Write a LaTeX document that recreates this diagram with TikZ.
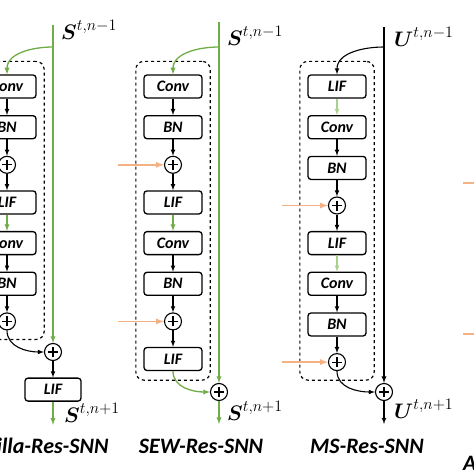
\RequirePackage{fix-cm}
\documentclass[tikz,border=0pt]{standalone}
\usepackage{amsmath,amssymb}
\usepackage{fontspec}
\setmainfont{Carlito}
\usepackage{xcolor}
\usepackage{tikz}
\usetikzlibrary{shapes,arrows,positioning,fit,backgrounds}
\DeclareMathSizes{21}{21}{16}{12}

\definecolor{resgreen}{HTML}{70AD47}
\definecolor{palegreen}{HTML}{A9D18E}
\definecolor{spikeorange}{HTML}{F4B183}

\begin{document}
\begin{tikzpicture}[
    x=1pt, y=-1pt,
    node distance=16.4pt,
    blk/.style={rectangle, draw, line width=1.3pt, rounded corners=3pt, minimum width=58pt, minimum height=23pt, inner sep=0pt, font=\fontsize{16}{18}\selectfont\bfseries\itshape},
    add/.style={circle, draw, line width=1.1pt, minimum size=17pt, inner sep=0pt,
        path picture={\draw[line width=1.1pt] ([xshift=-5pt]path picture bounding box.center) -- ([xshift=5pt]path picture bounding box.center)
            ([yshift=-5pt]path picture bounding box.center) -- ([yshift=5pt]path picture bounding box.center);}},
    dashbox/.style={draw, dashed, line width=1.2pt, rounded corners=8pt, inner xsep=7.5pt, inner ysep=9pt},
    arrow/.style={-latex, line width=1.1pt},
    garrow/.style={-latex, line width=1.3pt, draw=resgreen},
    parrow/.style={-latex, line width=1.1pt, draw=palegreen},
    oarrow/.style={-latex, line width=1.7pt, draw=spikeorange},
    lbl/.style={inner sep=0pt, anchor=base west, font=\fontsize{21}{24}\selectfont},
    title/.style={inner sep=0pt, anchor=base, font=\fontsize{22}{26}\selectfont\bfseries\itshape}
]
\useasboundingbox (0,0) rectangle (474,474);
\clip (0,0) rectangle (474,474);

% Vanilla-Res-SNN
\node[blk] (v1) at (7,86.5) {Conv};
\node[blk, below=of v1] (v2) {BN};
\node[add, below=of v2] (v3) {};
\node[blk, below=of v3] (v4) {LIF};
\node[blk, below=of v4] (v5) {Conv};
\node[blk, below=of v5] (v6) {BN};
\node[add, below=of v6] (v7) {};
\node[dashbox, fit={([yshift=4pt]v1.north west) (v1.north east) (v7)}] (vBox) {};
\coordinate (vTop) at (53,25);
\coordinate (vFork) at (53,47);
\node[add] (vAdd) at (53,352) {};
\node[blk, minimum width=56pt, below=of vAdd] (vLif) {LIF};
\coordinate[below=23pt of vLif] (vOut);
\node[lbl] (vInLbl) at (61,39) {$\boldsymbol{S}^{t,n-1}$};
\node[lbl] (vOutLbl) at (64,422) {$\boldsymbol{S}^{t,n+1}$};
\node[title] (vTitle) at (35,453) {Vanilla-Res-SNN};

\draw[garrow] (vTop) -- (vAdd);
\draw[garrow] (vFork) to[out=180,in=90] (v1.north);
\draw[arrow] (v1) -- (v2);
\draw[arrow] (v2) -- (v3);
\draw[arrow] (v3) -- (v4);
\draw[garrow] (v4) -- (v5);
\draw[arrow] (v5) -- (v6);
\draw[arrow] (v6) -- (v7);
\draw[arrow] (v7) to[out=-90,in=180] (vAdd);
\draw[arrow] (vAdd) -- (vLif);
\draw[garrow] (vLif) -- (vOut);

% SEW-Res-SNN
\node[blk] (s1) at (173,86.5) {Conv};
\node[blk, below=of s1] (s2) {BN};
\node[add, below=of s2] (s3) {};
\node[blk, below=of s3] (s4) {LIF};
\node[blk, below=of s4] (s5) {Conv};
\node[blk, below=of s5] (s6) {BN};
\node[add, below=of s6] (s7) {};
\node[blk, below=of s7] (s8) {LIF};
\node[dashbox, fit={([yshift=4pt]s1.north west) (s1.north east) (s8)}] (sBox) {};
\coordinate (sTop) at (219,22);
\coordinate (sFork) at (219,47);
\node[add] (sAdd) at (219,392) {};
\coordinate[below=23pt of sAdd] (sOut);
\coordinate[left=46pt of s3] (sIn1);
\coordinate[left=46pt of s7] (sIn2);
\node[lbl] (sInLbl) at (227,45) {$\boldsymbol{S}^{t,n-1}$};
\node[lbl] (sOutLbl) at (227,420) {$\boldsymbol{S}^{t,n+1}$};
\node[title] (sTitle) at (201,453) {SEW-Res-SNN};

\draw[garrow] (sTop) -- (sAdd);
\draw[garrow] (sFork) to[out=180,in=90] (s1.north);
\draw[arrow] (s1) -- (s2);
\draw[arrow] (s2) -- (s3);
\draw[arrow] (s3) -- (s4);
\draw[garrow] (s4) -- (s5);
\draw[arrow] (s5) -- (s6);
\draw[arrow] (s6) -- (s7);
\draw[arrow] (s7) -- (s8);
\draw[garrow] (s8) to[out=-90,in=180] (sAdd);
\draw[garrow] (sAdd) -- (sOut);
\draw[oarrow] (sIn1) -- (s3);
\draw[oarrow] (sIn2) -- (s7);

% MS-Res-SNN
\node[blk] (m1) at (337,86.5) {LIF};
\node[blk, below=of m1] (m2) {Conv};
\node[blk, below=of m2] (m3) {BN};
\node[add, below=of m3] (m4) {};
\node[blk, below=of m4] (m5) {LIF};
\node[blk, below=of m5] (m6) {Conv};
\node[blk, below=of m6] (m7) {BN};
\node[add, below=of m7] (m8) {};
\node[dashbox, fit={([yshift=4pt]m1.north west) (m1.north east) (m8)}] (mBox) {};
\coordinate (mTop) at (384,27);
\coordinate (mFork) at (384,47);
\node[add] (mAdd) at (384,392) {};
\coordinate[below=23pt of mAdd] (mOut);
\coordinate[left=46pt of m4] (mIn1);
\coordinate[left=46pt of m8] (mIn2);
\node[lbl] (mInLbl) at (394,46) {$\boldsymbol{U}^{t,n-1}$};
\node[lbl] (mOutLbl) at (394,418) {$\boldsymbol{U}^{t,n+1}$};
\node[title] (mTitle) at (367,453) {MS-Res-SNN};

\draw[arrow, line width=1.3pt] (mTop) -- (mAdd);
\draw[arrow] (mFork) to[out=180,in=90] (m1.north);
\draw[parrow] (m1) -- (m2);
\draw[arrow] (m2) -- (m3);
\draw[arrow] (m3) -- (m4);
\draw[arrow] (m4) -- (m5);
\draw[parrow] (m5) -- (m6);
\draw[arrow] (m6) -- (m7);
\draw[arrow] (m7) -- (m8);
\draw[arrow] (m8) to[out=-90,in=180] (mAdd);
\draw[arrow] (mAdd) -- (mOut);
\draw[oarrow] (mIn1) -- (m4);
\draw[oarrow] (mIn2) -- (m8);

% next panel, cut at the edge
\coordinate (aIn1) at (463,183);
\coordinate (aTo1) at (500,183);
\coordinate (aIn2) at (463,334);
\coordinate (aTo2) at (500,334);
\draw[oarrow] (aIn1) -- (aTo1);
\draw[oarrow] (aIn2) -- (aTo2);
\node[title, anchor=base west] (aTitle) at (463,470) {A};
\end{tikzpicture}
\end{document}
